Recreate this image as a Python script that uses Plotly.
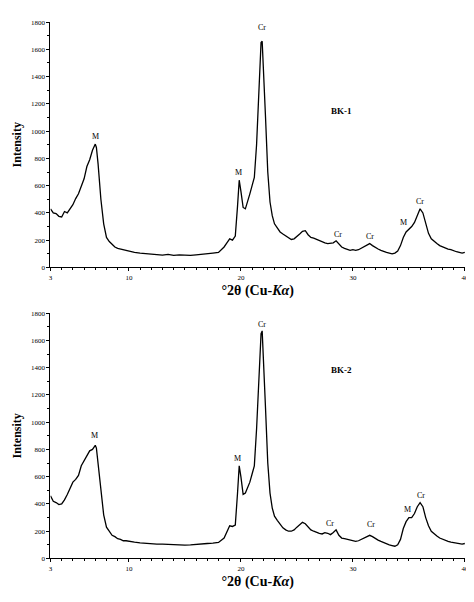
import plotly.graph_objects as go

two_theta = [3.0,3.25,3.5,3.75,4.0,4.25,4.5,4.75,5.0,5.25,5.5,5.75,6.0,6.25,6.5,6.75,7.0,7.1,7.25,7.5,7.75,8.0,8.25,8.5,8.75,9.0,9.25,9.5,9.75,10.0,
             10.5,11.0,11.5,12.0,12.5,13.0,13.5,14.0,14.5,15.0,15.5,16.0,16.5,17.0,17.5,18.0,18.5,18.75,19.0,19.25,19.5,19.7,19.85,20.0,20.2,20.4,20.6,20.8,21.0,21.2,
             21.4,21.6,21.8,21.9,22.0,22.2,22.4,22.6,22.8,23.0,23.25,23.5,23.75,24.0,24.25,24.5,24.75,25.0,25.25,25.5,25.75,26.0,26.25,26.5,26.75,27.0,27.25,27.5,27.75,28.0,
             28.25,28.5,28.75,29.0,29.25,29.5,29.75,30.0,30.25,30.5,30.75,31.0,31.25,31.5,31.75,32.0,32.25,32.5,32.75,33.0,33.25,33.5,33.75,34.0,34.25,34.5,34.75,35.0,35.25,35.5,
             35.75,36.0,36.25,36.5,36.75,37.0,37.25,37.5,37.75,38.0,38.25,38.5,38.75,39.0,39.25,39.5,39.75,40.0]

bk1 = [430,400,395,375,370,410,400,430,460,505,540,595,650,740,790,860,905,880,760,500,320,220,190,170,150,140,135,125,120,115,
       110,105,100,95,92,90,95,88,92,90,88,92,95,100,105,110,150,180,210,200,230,450,640,560,440,430,480,540,600,660,
       900,1250,1650,1660,1500,1100,700,480,380,320,290,260,245,230,215,205,210,225,245,265,270,240,220,215,205,195,185,180,175,175,
       180,195,170,150,140,130,125,130,125,130,140,150,165,175,160,145,135,125,115,110,105,100,105,120,160,220,260,280,300,330,
       380,430,400,320,250,210,190,175,160,150,140,135,130,120,115,110,105,110]

bk2 = [460,420,410,395,400,430,470,520,560,580,610,680,720,760,790,800,830,810,700,480,320,230,200,170,160,145,140,130,130,125,
       120,115,110,108,105,105,102,100,100,98,100,105,108,110,112,118,150,190,240,235,245,480,680,600,470,480,520,560,620,680,
       950,1300,1650,1670,1500,1100,700,480,370,310,280,250,225,210,200,200,210,230,250,265,255,230,210,200,190,185,180,190,185,175,
       190,210,170,150,145,140,130,130,125,130,140,150,165,170,160,145,135,125,115,105,100,95,90,100,140,220,270,300,300,330,
       380,410,380,300,240,200,180,165,150,140,130,125,120,115,110,110,105,110]

labels1 = [(7.0,960,"M"),(19.8,700,"M"),(21.9,1760,"Cr"),(28.7,240,"Cr"),(31.5,230,"Cr"),(34.5,330,"M"),(36.0,480,"Cr")]
labels2 = [(6.9,900,"M"),(19.7,730,"M"),(21.9,1720,"Cr"),(28.0,260,"Cr"),(31.6,250,"Cr"),(34.9,360,"M"),(36.1,460,"Cr")]
names = ["BK-1","BK-2"]
name_pos = [(29,1150),(29,1380)]

font = "Liberation Serif"
fig = go.Figure()
fig.add_trace(go.Scatter(x=two_theta, y=bk1, mode="lines", line=dict(color="black", width=1.3), xaxis="x", yaxis="y"))
fig.add_trace(go.Scatter(x=two_theta, y=bk2, mode="lines", line=dict(color="black", width=1.3), xaxis="x2", yaxis="y2"))

ax = dict(range=[3,40], tickvals=[3,10,20,30,40], ticks="outside", ticklen=3, tickcolor="black", showgrid=False, zeroline=False,
          showline=True, linecolor="black", linewidth=1, tickfont=dict(family=font, size=7, color="black"),
          minor=dict(dtick=1, ticks="outside", ticklen=2, tickcolor="black"),
          title=dict(text="<b>°2θ (Cu-<i>Kα</i>)</b>", font=dict(family=font, size=14, color="black"), standoff=4))
ay = dict(range=[0,1800], dtick=200, ticks="outside", ticklen=3, tickcolor="black", showgrid=False, zeroline=False,
          showline=True, linecolor="black", linewidth=1, tickfont=dict(family=font, size=7, color="black"),
          minor=dict(dtick=100, ticks="outside", ticklen=2, tickcolor="black"),
          title=dict(text="<b>Intensity</b>", font=dict(family=font, size=12, color="black"), standoff=6))

fig.update_layout(
    width=474, height=602, margin=dict(l=0, r=0, t=0, b=0), showlegend=False,
    plot_bgcolor="white", paper_bgcolor="white",
    xaxis=dict(ax, domain=[0.0865,0.972], anchor="y"),
    yaxis=dict(ay, domain=[0.570,0.983], anchor="x"),
    xaxis2=dict(ax, domain=[0.0865,0.972], anchor="y2"),
    yaxis2=dict(ay, domain=[0.080,0.493], anchor="x2"),
)
for xr, yr, labs, nm, (nx, ny) in [("x","y",labels1,names[0],name_pos[0]),("x2","y2",labels2,names[1],name_pos[1])]:
    for lx, ly, t in labs:
        fig.add_annotation(x=lx, y=ly, text=t, xref=xr, yref=yr, showarrow=False, font=dict(family=font, size=8, color="black"))
    fig.add_annotation(x=nx, y=ny, text="<b>"+nm+"</b>", xref=xr, yref=yr, showarrow=False, font=dict(family=font, size=9, color="black"))

fig.write_html("out.html")
